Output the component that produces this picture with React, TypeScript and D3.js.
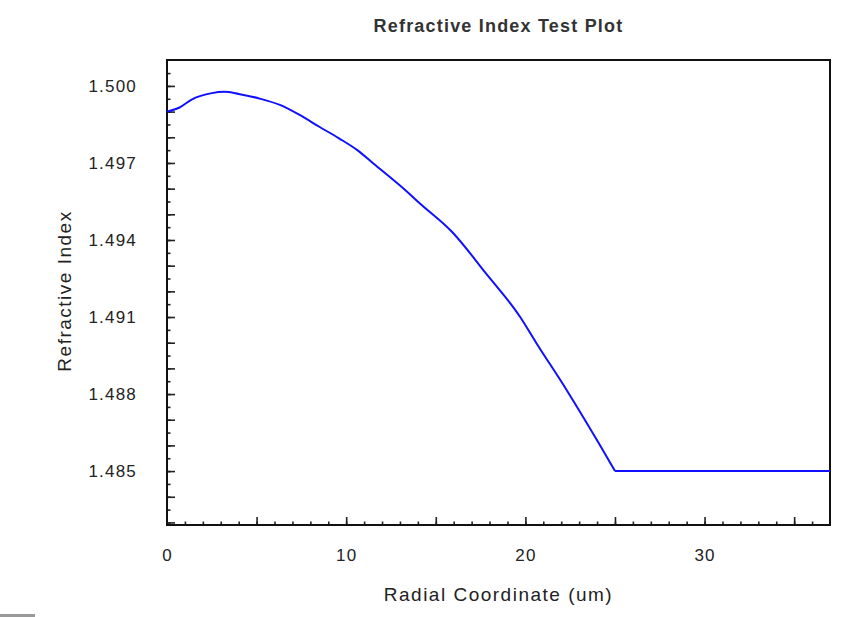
import React, { useEffect, useRef } from "react";
import * as d3 from "d3";

// radial coordinate (um) and refractive index
const radius = [0, 0.7, 1.4, 2.5, 3.2, 4.0, 5.1, 6.3, 7.4, 8.5, 9.6, 10.6, 11.5, 13.4, 14.1, 15.9, 17.8, 19.7, 20.6, 22.3, 24.1, 25.0, 37.0];
const index = [1.499, 1.49916, 1.49948, 1.49972, 1.49977, 1.49969, 1.49952, 1.49926, 1.49887, 1.49841, 1.49796, 1.49751, 1.49699, 1.49588, 1.49543, 1.49432, 1.4927, 1.49101, 1.49, 1.48816, 1.48608, 1.485, 1.485];
const coreRadius = 25; // graded core ends here, cladding is flat

const xLabelTicks = [0, 10, 20, 30];
const yLabelTicks = [1.5, 1.497, 1.494, 1.491, 1.488, 1.485];

const App = () => {
  const ref = useRef<SVGSVGElement>(null);

  useEffect(() => {
    const svg = d3.select(ref.current);
    svg.selectAll("*").remove();

    const W = 850;
    const H = 617;
    const left = 167, right = 830, top = 60, bottom = 525;
    const font = "'Liberation Sans', Arial, sans-serif";
    const ink = "#222";

    svg.attr("width", W).attr("height", H);
    svg.append("rect").attr("width", W).attr("height", H).attr("fill", "#fff");

    const x = d3.scaleLinear().domain([0, 37]).range([left, right]);
    const y = d3.scaleLinear().domain([1.4829, 1.50101]).range([bottom, top]);

    const hideDomain = (g) => g.select(".domain").remove();

    // x axis: minor every 1, major every 5, labels every 10
    svg.append("g")
      .attr("transform", `translate(0,${bottom})`)
      .call(d3.axisBottom(x).tickValues(d3.range(1, 37, 1)).tickSize(-3.5).tickFormat(() => ""))
      .call(hideDomain);
    svg.append("g")
      .attr("transform", `translate(0,${bottom})`)
      .call(d3.axisBottom(x).tickValues(d3.range(5, 37, 5)).tickSize(-8).tickFormat(() => ""))
      .call(hideDomain);
    const xl = svg.append("g")
      .attr("transform", `translate(0,${bottom})`)
      .call(d3.axisBottom(x).tickValues(xLabelTicks).tickSize(0).tickPadding(24).tickFormat(d3.format("d")))
      .call(hideDomain);

    // y axis: minor every 0.0005, major every 0.001, labels every 0.003
    svg.append("g")
      .attr("transform", `translate(${left},0)`)
      .call(d3.axisLeft(y).tickValues(d3.range(1.4830, 1.5009, 0.0005)).tickSize(-3.5).tickFormat(() => ""))
      .call(hideDomain);
    svg.append("g")
      .attr("transform", `translate(${left},0)`)
      .call(d3.axisLeft(y).tickValues(d3.range(1.483, 1.5009, 0.001)).tickSize(-8).tickFormat(() => ""))
      .call(hideDomain);
    const yl = svg.append("g")
      .attr("transform", `translate(${left},0)`)
      .call(d3.axisLeft(y).tickValues(yLabelTicks).tickSize(0).tickPadding(30).tickFormat(d3.format(".3f")))
      .call(hideDomain);

    svg.selectAll(".tick line").attr("stroke", ink).attr("stroke-width", 1.6);
    [xl, yl].forEach((g) =>
      g.selectAll("text")
        .attr("font-family", font)
        .attr("font-size", 17)
        .attr("letter-spacing", 1.2)
        .attr("fill", ink)
    );

    // frame
    svg.append("rect")
      .attr("x", left).attr("y", top)
      .attr("width", right - left).attr("height", bottom - top)
      .attr("fill", "none").attr("stroke", "#111").attr("stroke-width", 2);

    // profile: smooth graded core, straight cladding
    const pts = radius.map((r, i) => [r, index[i]] as [number, number]);
    const core = pts.filter((p) => p[0] <= coreRadius);
    const clad = pts.filter((p) => p[0] >= coreRadius);
    const smooth = d3.line().x((d) => x(d[0])).y((d) => y(d[1])).curve(d3.curveMonotoneX);
    const straight = d3.line().x((d) => x(d[0])).y((d) => y(d[1]));
    [smooth(core), straight(clad)].forEach((d) =>
      svg.append("path")
        .attr("d", d)
        .attr("fill", "none")
        .attr("stroke", "#1010ff")
        .attr("stroke-width", 2)
        .attr("stroke-linejoin", "round")
    );

    svg.append("text")
      .attr("x", (left + right) / 2).attr("y", 32)
      .attr("text-anchor", "middle")
      .attr("font-family", font).attr("font-size", 18).attr("font-weight", "bold")
      .attr("letter-spacing", 1.2).attr("fill", "#333")
      .text("Refractive Index Test Plot");

    svg.append("text")
      .attr("x", (left + right) / 2).attr("y", 601)
      .attr("text-anchor", "middle")
      .attr("font-family", font).attr("font-size", 19)
      .attr("letter-spacing", 1.5).attr("fill", ink)
      .text("Radial Coordinate (um)");

    svg.append("text")
      .attr("transform", `translate(71,291) rotate(-90)`)
      .attr("text-anchor", "middle")
      .attr("font-family", font).attr("font-size", 19)
      .attr("letter-spacing", 1.5).attr("fill", ink)
      .text("Refractive Index");

    svg.append("rect").attr("x", 0).attr("y", 614).attr("width", 35).attr("height", 3).attr("fill", "#999");
  }, []);

  return (
    <div>
      <svg ref={ref} style={{ position: "fixed", left: 0, top: 0 }} />
    </div>
  );
};

export default App;
